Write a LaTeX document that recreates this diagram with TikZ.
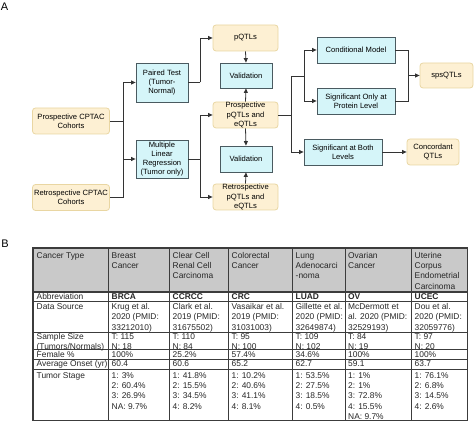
\documentclass[tikz,border=0pt]{standalone}
\usepackage{fontspec}
\setmainfont{Liberation Sans}
\usetikzlibrary{arrows.meta}
\definecolor{yfill}{HTML}{FDF0D3}
\definecolor{ydraw}{HTML}{E9D6A2}
\definecolor{bfill}{HTML}{D5F5F9}
\definecolor{bdraw}{HTML}{4A5A60}
\definecolor{lcol}{HTML}{333333}
\definecolor{hfill}{HTML}{C9C9C9}
\definecolor{tline}{HTML}{3C3C3C}
\tikzset{
  ybox/.style={draw=ydraw, fill=yfill, line width=0.8pt, rounded corners=3pt, align=center, inner sep=0pt, font=\fontsize{7.6}{9.2}\selectfont},
  bbox/.style={draw=bdraw, fill=bfill, line width=0.8pt, align=center, inner sep=0pt, font=\fontsize{7.6}{9.2}\selectfont},
  conn/.style={draw=lcol, line width=0.8pt},
  arr/.style={conn, -{Triangle[length=4.5pt,width=4pt]}},
  cell/.style={anchor=north west, inner sep=0pt, align=left, text=black!85, font=\fontsize{8.4}{10.3}\selectfont},
  tl/.style={draw=tline, line width=0.9pt},
  tlb/.style={draw=tline, line width=1.3pt},
}
\newcommand\tcell[4]{\node[cell] (#1) at (#2,#3-7.21) {\strut #4};}
\begin{document}
\begin{tikzpicture}[x=1pt,y=-1pt]
\useasboundingbox (0,0) rectangle (474,422);
% panel labels
\node[font=\fontsize{11}{12}\selectfont, inner sep=0pt] (labA) at (4.5,6.5) {A};
\node[font=\fontsize{11}{12}\selectfont, inner sep=0pt] (labB) at (5,244) {B};

% flowchart boxes
\node[ybox, minimum width=77pt, minimum height=26pt] (pc) at (71,121) {Prospective CPTAC\\Cohorts};
\node[ybox, minimum width=77pt, minimum height=26pt] (rc) at (71,197.5) {Retrospective CPTAC\\Cohorts};
\node[bbox, minimum width=52pt, minimum height=39pt] (pt) at (162,82.5) {Paired Test\\(Tumor-\\Normal)};
\node[bbox, minimum width=52pt, minimum height=38pt] (mlr) at (162,159) {Multiple\\Linear\\Regression\\(Tumor only)};
\node[ybox, minimum width=65pt, minimum height=26pt] (pq) at (245.5,38) {pQTLs};
\node[bbox, minimum width=52pt, minimum height=25pt] (v1) at (246,75.5) {Validation};
\node[ybox, minimum width=65pt, minimum height=26pt] (ppq) at (245.5,115) {Prospective\\pQTLs and\\eQTLs};
\node[bbox, minimum width=52pt, minimum height=26pt] (v2) at (246,159) {Validation};
\node[ybox, minimum width=65pt, minimum height=26pt] (rpq) at (245.5,197) {Retrospective\\pQTLs and\\eQTLs};
\node[bbox, minimum width=78pt, minimum height=26pt] (cm) at (356,50) {Conditional Model};
\node[bbox, minimum width=78pt, minimum height=26pt] (so) at (356,101) {Significant Only at\\Protein Level};
\node[bbox, minimum width=78pt, minimum height=26pt] (sb) at (343,152) {Significant at Both\\Levels};
\node[ybox, minimum width=53pt, minimum height=25pt] (sps) at (446.5,75.5) {spsQTLs};
\node[ybox, minimum width=52pt, minimum height=26pt] (cq) at (433,152) {Concordant\\QTLs};

% junction coordinates
\coordinate (j1) at (123,121);
\coordinate (j2) at (200,82.5);
\coordinate (j3) at (200,159);
\coordinate (j4) at (291,115);
\coordinate (j5) at (291,76);
\coordinate (j6) at (304,76);
\coordinate (j7) at (408,75.5);

% connectors
\draw[conn] (pc.east) -- (j1);
\draw[arr] (j1) |- (pt.west);
\draw[arr] (j1) |- (mlr.west);
\draw[conn] (rc.east) -| (j1);
\draw[conn] (pt.east) -- (j2);
\draw[arr] (j2) |- (pq.west);
\draw[conn] (mlr.east) -- (j3);
\draw[arr] (j3) |- (ppq.west);
\draw[arr] (j3) |- (rpq.west);
\draw[arr] (pq.south) -- (v1.north);
\draw[arr] (ppq.north) -- (v1.south);
\draw[arr] (ppq.south) -- (v2.north);
\draw[arr] (rpq.north) -- (v2.south);
\draw[conn] (ppq.east) -- (j4);
\draw[conn] (j4) -- (j5) -- (j6);
\draw[arr] (j6) |- (cm.west);
\draw[arr] (j6) |- (so.west);
\draw[arr] (j4) |- (sb.west);
\draw[conn] (cm.east) -| (j7);
\draw[conn] (so.east) -| (j7);
\draw[arr] (j7) -- (sps.west);
\draw[arr] (sb.east) -- (cq.west);

% table
\fill[hfill] (33,248) rectangle (467.5,292);
\foreach \y in {301,332,349.5,359,369} \draw[tl] (33,\y) -- (467.5,\y);
\draw[tlb] (33,292) -- (467.5,292);
\foreach \x in {108,169,228,292.5,345,411.5} \draw[tl] (\x,248) -- (\x,420.5);
\draw[tlb] (33,248) rectangle (467.5,420.5);

% column 1
\tcell{c11}{36.5}{258}{Cancer Type}
\tcell{c12}{36.5}{299.5}{Abbreviation}
\tcell{c13}{36.5}{309.5}{Data Source}
\tcell{c14}{36.5}{339}{Sample Size\\(Tumors/Normals)}
\tcell{c15}{36.5}{357}{Female \%}
\tcell{c16}{36.5}{366.5}{Average Onset (yr)}
\tcell{c17}{36.5}{378}{Tumor Stage}
% column 2
\tcell{c21}{111.5}{258}{Breast\\Cancer}
\tcell{c22}{111.5}{299.5}{\bfseries BRCA}
\tcell{c23}{111.5}{309.5}{Krug et al.\\2020 (PMID:\\33212010)}
\tcell{c24}{111.5}{339}{T: 115\\N: 18}
\tcell{c25}{111.5}{357}{100\%}
\tcell{c26}{111.5}{366.5}{60.4}
\tcell{c27}{111.5}{378}{1: 3\%\\2: 60.4\%\\3: 26.9\%\\NA: 9.7\%}
% column 3
\tcell{c31}{172.5}{258}{Clear Cell\\Renal Cell\\Carcinoma}
\tcell{c32}{172.5}{299.5}{\bfseries CCRCC}
\tcell{c33}{172.5}{309.5}{Clark et al.\\2019 (PMID:\\31675502)}
\tcell{c34}{172.5}{339}{T: 110\\N: 84}
\tcell{c35}{172.5}{357}{25.2\%}
\tcell{c36}{172.5}{366.5}{60.6}
\tcell{c37}{172.5}{378}{1: 41.8\%\\2: 15.5\%\\3: 34.5\%\\4: 8.2\%}
% column 4
\tcell{c41}{231.5}{258}{Colorectal\\Cancer}
\tcell{c42}{231.5}{299.5}{\bfseries CRC}
\tcell{c43}{231.5}{309.5}{Vasaikar et al.\\2019 (PMID:\\31031003)}
\tcell{c44}{231.5}{339}{T: 95\\N: 100}
\tcell{c45}{231.5}{357}{57.4\%}
\tcell{c46}{231.5}{366.5}{65.2}
\tcell{c47}{231.5}{378}{1: 10.2\%\\2: 40.6\%\\3: 41.1\%\\4: 8.1\%}
% column 5
\tcell{c51}{295.5}{258}{Lung\\Adenocarci\\-noma}
\tcell{c52}{295.5}{299.5}{\bfseries LUAD}
\tcell{c53}{295.5}{309.5}{Gillette et al.\\2020 (PMID:\\32649874)}
\tcell{c54}{295.5}{339}{T: 109\\N: 102}
\tcell{c55}{295.5}{357}{34.6\%}
\tcell{c56}{295.5}{366.5}{62.7}
\tcell{c57}{295.5}{378}{1: 53.5\%\\2: 27.5\%\\3: 18.5\%\\4: 0.5\%}
% column 6
\tcell{c61}{348}{258}{Ovarian\\Cancer}
\tcell{c62}{348}{299.5}{\bfseries OV}
\tcell{c63}{348}{309.5}{McDermott et\\al. 2020 (PMID:\\32529193)}
\tcell{c64}{348}{339}{T: 84\\N: 19}
\tcell{c65}{348}{357}{100\%}
\tcell{c66}{348}{366.5}{59.1}
\tcell{c67}{348}{378}{1: 1\%\\2: 1\%\\3: 72.8\%\\4: 15.5\%\\NA: 9.7\%}
% column 7
\tcell{c71}{414.5}{258}{Uterine\\Corpus\\Endometrial\\Carcinoma}
\tcell{c72}{414.5}{299.5}{\bfseries UCEC}
\tcell{c73}{414.5}{309.5}{Dou et al.\\2020 (PMID:\\32059776)}
\tcell{c74}{414.5}{339}{T: 97\\N: 20}
\tcell{c75}{414.5}{357}{100\%}
\tcell{c76}{414.5}{366.5}{63.7}
\tcell{c77}{414.5}{378}{1: 76.1\%\\2: 6.8\%\\3: 14.5\%\\4: 2.6\%}
\end{tikzpicture}
\end{document}
